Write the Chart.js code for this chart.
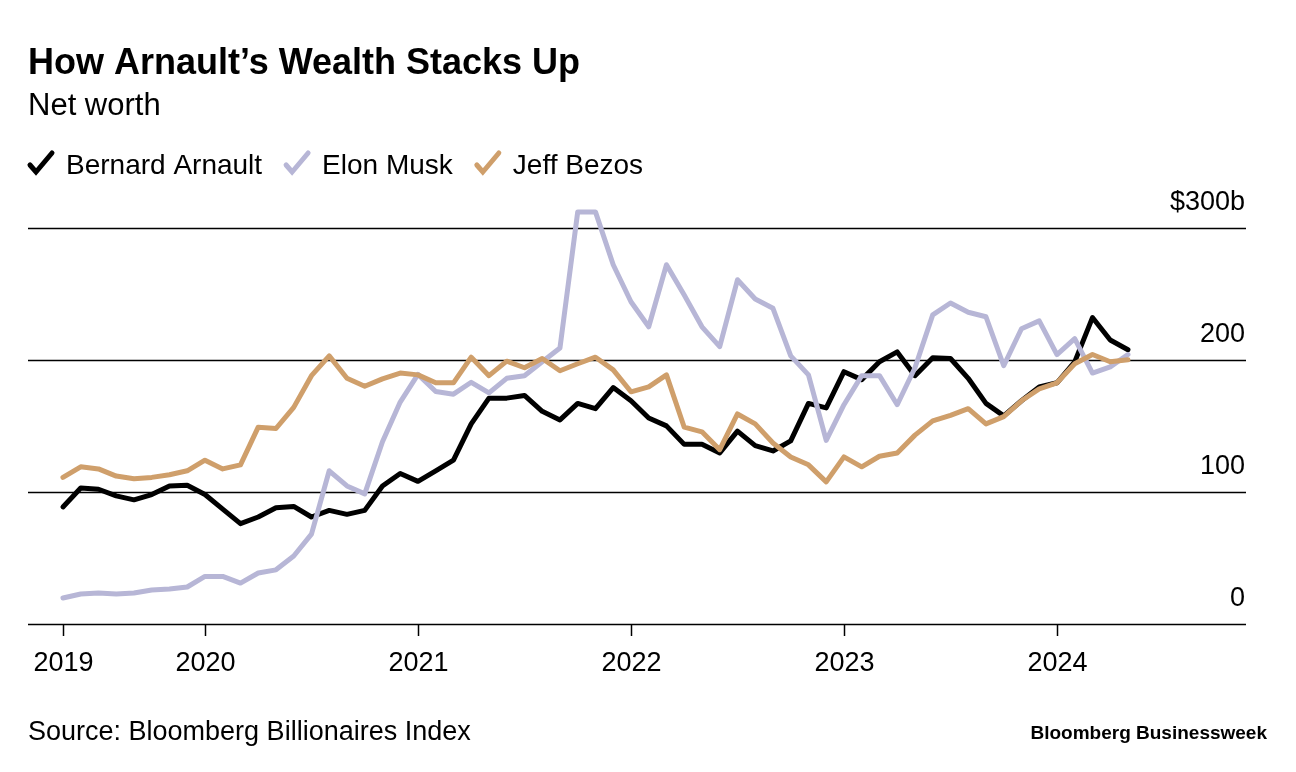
<!DOCTYPE html>
<html>
<head>
<meta charset="utf-8">
<script src="https://cdn.jsdelivr.net/npm/chart.js@4/dist/chart.umd.min.js"></script>
<style>
  html, body { margin: 0; padding: 0; background: #fff; }
  #wrap { position: relative; width: 1296px; height: 772px; }
</style>
</head>
<body>
<div id="wrap"><canvas id="myChart" width="1296" height="772"></canvas></div>
<script>
// monthly, May 2019 .. May 2024 (index 0 = May 2019)
const arnault = [88.6,103,102,97,94,98,104.5,105,98,87,76,81,88,89,81,86,83,86,104.5,114,108,116,124,151.5,171,171,173,161,154.5,167,163,179,169,156,150,136,136,129.5,146,135,131,138.6,167,163.6,191,185,198.5,206,188,201.5,201,186,167,157.6,169,179.5,182.6,198.5,232,215,207.6];
const musk = [19.7,22.7,23.5,22.7,23.5,25.8,26.5,28,36,36,31,38.6,41,51.5,68,116,104.5,98.5,138,168,189,176,174,183,175,186,188,198.5,209,312,312,272,244,225,272,249,225,210,260.6,246,239,203,188.6,139,166,188,188,166,194,234,243,236,232.6,195.5,223.5,229.5,204,216,190,194.7,204];
const bezos = [111,119,117.4,112,110,111,113,116,124,117.4,120.5,149,148,164,188,203,186,180,185.6,190,188.6,182.6,182.6,202,188,199,194,201,191.7,197,202,192.4,175.8,179.5,188.6,149,145.5,132,159,151.5,137,126.5,120.5,107.6,126.5,119,127,129.5,143,153.8,158,163,151.5,157,169,178,182.6,197,204,198.5,200];
const yearTicks = [0, 8, 20, 32, 44, 56];
const yearLabels = ['2019', '2020', '2021', '2022', '2023', '2024'];
const yTicks = [0, 100, 200, 300];
const yLabels = ['0', '100', '200', '$300b'];

const FONT = '"Liberation Sans", Arial, sans-serif';
const colors = { arnault: '#000000', musk: '#b7b6d6', bezos: '#cf9f6b' };

function pts(arr) { return arr.map((v, i) => ({ x: i, y: v })); }

const decor = {
    id: 'decor',
    beforeDatasetsDraw(chart) {
        const c = chart.ctx, xs = chart.scales.x, ys = chart.scales.y, a = chart.chartArea;
        c.save();
        c.strokeStyle = '#000';
        c.lineWidth = 1.5;
        c.fillStyle = '#000';
        c.font = '27px ' + FONT;
        c.textAlign = 'right';
        c.textBaseline = 'bottom';
        yTicks.forEach((t, i) => {
            const y = Math.round(ys.getPixelForValue(t)) + 0.5;
            c.beginPath(); c.moveTo(a.left, y); c.lineTo(a.right, y); c.stroke();
            c.fillText(yLabels[i], a.right - 1, y - 12);
        });
        c.textAlign = 'center';
        c.textBaseline = 'top';
        yearTicks.forEach((t, i) => {
            const x = Math.round(xs.getPixelForValue(t)) + 0.5;
            c.beginPath(); c.moveTo(x, a.bottom); c.lineTo(x, a.bottom + 12); c.stroke();
            c.fillText(yearLabels[i], x, a.bottom + 26);
        });
        c.restore();
    },
    afterDraw(chart) {
        const c = chart.ctx;
        c.save();
        c.fillStyle = '#000';
        c.textBaseline = 'alphabetic';
        c.textAlign = 'left';
        c.font = 'bold 36px ' + FONT;
        c.fillText('How Arnault\u2019s Wealth Stacks Up', 28, 74);
        c.font = '31px ' + FONT;
        c.fillText('Net worth', 28, 115);
        // legend
        c.font = '28px ' + FONT;
        const items = [['Bernard Arnault', colors.arnault], ['Elon Musk', colors.musk], ['Jeff Bezos', colors.bezos]];
        let x = 30;
        items.forEach(([name, col]) => {
            c.strokeStyle = col; c.lineWidth = 5; c.lineCap = 'round';
            c.beginPath(); c.moveTo(x, 165); c.lineTo(x + 6, 172); c.lineTo(x + 22, 153); c.stroke();
            c.fillText(name, x + 36, 174);
            x += 36 + c.measureText(name).width + 24;
        });
        c.font = '27px ' + FONT;
        c.fillText('Source: Bloomberg Billionaires Index', 28, 740);
        c.textAlign = 'right';
        c.font = 'bold 19px ' + FONT;
        c.fillText('Bloomberg Businessweek', 1267, 739);
        c.restore();
    }
};

function ds(label, data, col) {
    return { label, data: pts(data), borderColor: col, borderWidth: 5, pointRadius: 0, tension: 0, borderJoinStyle: 'round', borderCapStyle: 'round' };
}

new Chart(document.getElementById('myChart'), {
    type: 'line',
    data: {
        datasets: [
            ds('Jeff Bezos', bezos, colors.bezos),
            ds('Elon Musk', musk, colors.musk),
            ds('Bernard Arnault', arnault, colors.arnault)
        ]
    },
    options: {
        responsive: false,
        animation: false,
        layout: { padding: { left: 28, right: 50, top: 200, bottom: 148 } },
        plugins: { legend: { display: false }, tooltip: { enabled: false } },
        scales: {
            x: { type: 'linear', min: -1.97, max: 66.65, display: false },
            y: { min: 0, max: 321, display: false }
        }
    },
    plugins: [decor]
});
</script>
</body>
</html>
